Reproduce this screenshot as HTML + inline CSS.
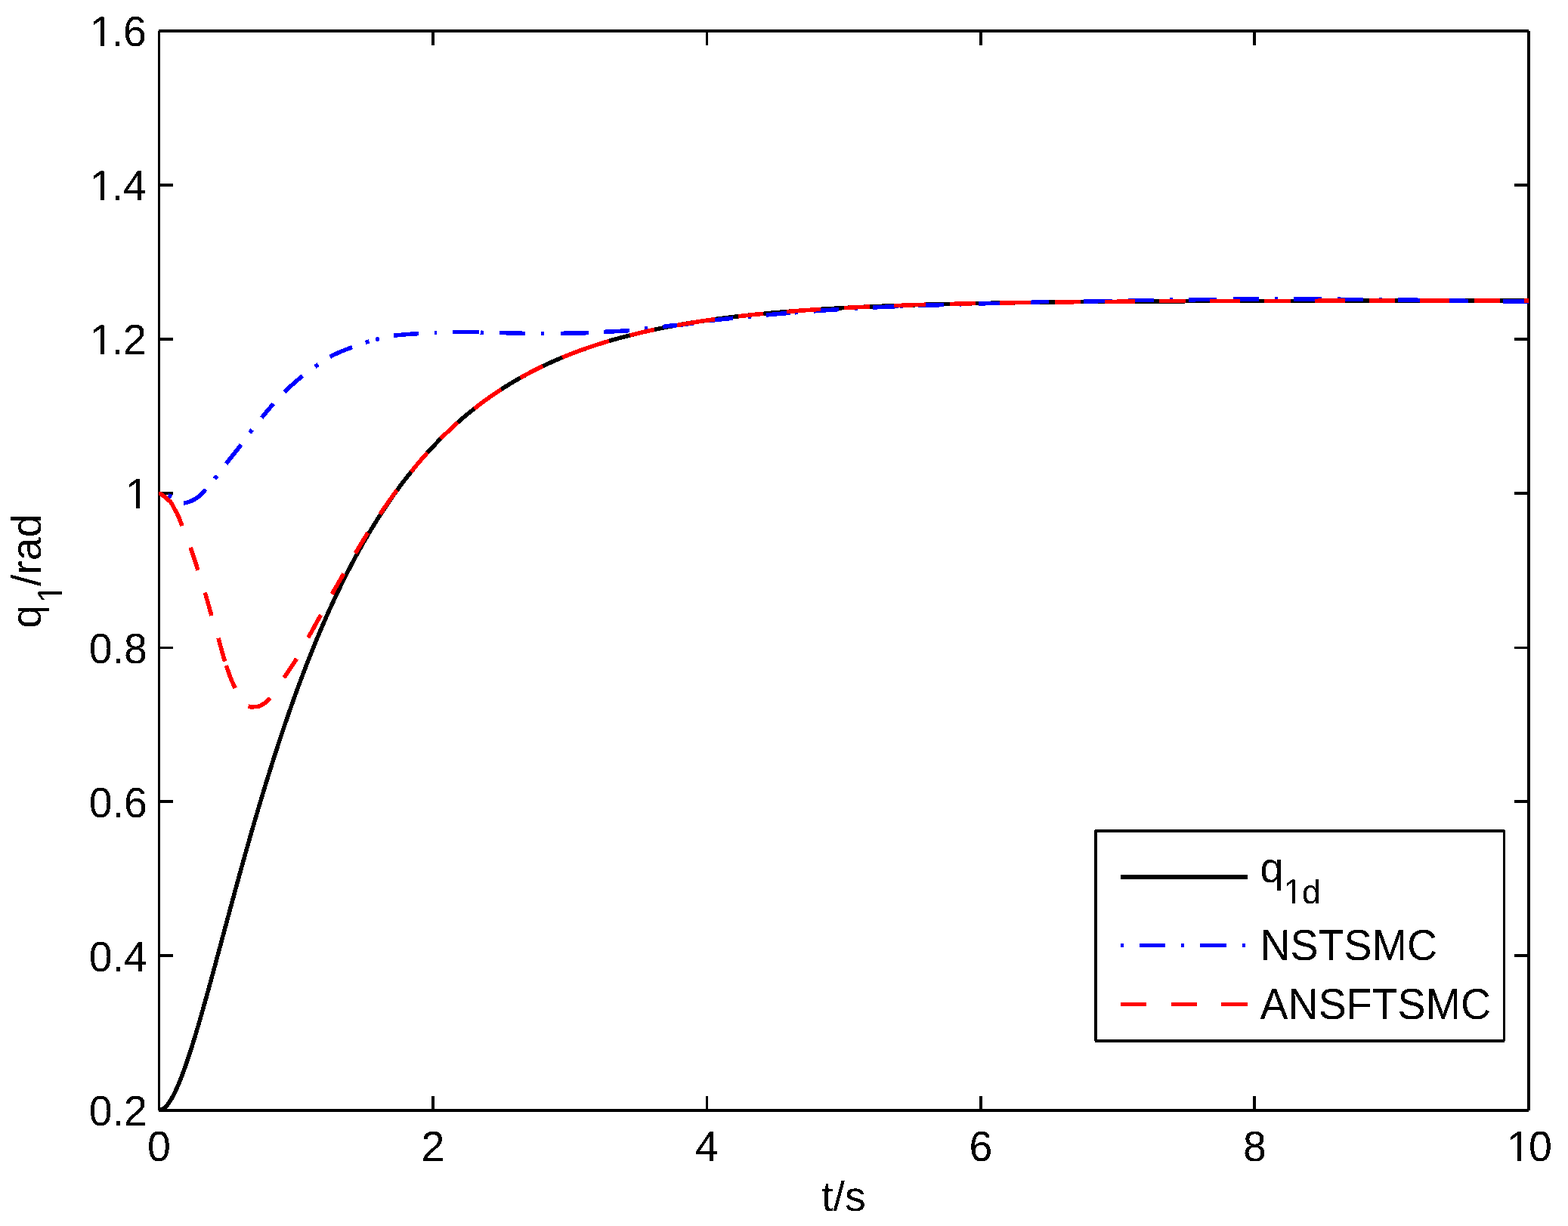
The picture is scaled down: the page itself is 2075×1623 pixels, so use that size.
<!DOCTYPE html>
<html lang="en"><head><meta charset="utf-8"><title>q1 tracking: q1d, NSTSMC, ANSFTSMC</title>
<style>html,body{margin:0;padding:0;background:#fff}body{width:2075px;height:1623px;overflow:hidden}svg{display:block}text{font-family:"Liberation Sans",Arial,Helvetica,sans-serif;fill:#000;text-rendering:geometricPrecision}</style></head><body>
<svg width="2075" height="1623" viewBox="0 0 2075 1623" role="img" aria-label="Joint 1 position tracking: reference q1d compared with NSTSMC and ANSFTSMC controllers">
<rect width="2075" height="1623" fill="#fff"/>
<defs><clipPath id="ax"><rect x="210" y="39" width="1813" height="1433"/></clipPath><filter id="bin" x="0" y="0" width="100%" height="100%" filterUnits="userSpaceOnUse" color-interpolation-filters="sRGB"><feComponentTransfer><feFuncA type="discrete" tableValues="0 1"/></feComponentTransfer></filter></defs>
<g fill="#000" shape-rendering="crispEdges">
<rect x="209" y="41" width="3" height="1429"/>
<rect x="2021" y="41" width="4" height="1429"/>
<rect x="210" y="39" width="1813" height="4"/>
<rect x="210" y="1468" width="1813" height="4"/>
<rect x="571" y="1451" width="4" height="17"/>
<rect x="571" y="43" width="4" height="17"/>
<rect x="934" y="1451" width="3" height="17"/>
<rect x="934" y="43" width="3" height="17"/>
<rect x="1296" y="1451" width="4" height="17"/>
<rect x="1296" y="43" width="4" height="17"/>
<rect x="1658" y="1451" width="4" height="17"/>
<rect x="1658" y="43" width="4" height="17"/>
<rect x="212" y="243" width="17" height="4"/>
<rect x="2004" y="243" width="17" height="4"/>
<rect x="212" y="447" width="17" height="4"/>
<rect x="2004" y="447" width="17" height="4"/>
<rect x="212" y="651" width="17" height="4"/>
<rect x="2004" y="651" width="17" height="4"/>
<rect x="212" y="856" width="17" height="3"/>
<rect x="2004" y="856" width="17" height="3"/>
<rect x="212" y="1059" width="17" height="4"/>
<rect x="2004" y="1059" width="17" height="4"/>
<rect x="212" y="1263" width="17" height="4"/>
<rect x="2004" y="1263" width="17" height="4"/>
</g>
<g clip-path="url(#ax)" fill="none" shape-rendering="crispEdges" stroke-width="5.56" stroke-linejoin="round">
<path stroke="#000" d="M210.5 1469.7L213.5 1469.1L216.0 1467.8L218.0 1466.3L220.0 1464.3L221.5 1462.6L223.0 1460.6L224.5 1458.4L226.0 1456.1L227.5 1453.5L229.0 1450.8L230.5 1447.9L231.5 1445.9L232.5 1443.8L233.5 1441.6L234.5 1439.4L235.5 1437.1L236.5 1434.7L237.5 1432.3L238.5 1429.8L239.5 1427.3L240.5 1424.7L241.5 1422.1L242.5 1419.4L243.5 1416.6L244.5 1413.8L245.5 1411.0L246.5 1408.1L247.5 1405.2L248.5 1402.2L249.5 1399.2L250.5 1396.2L251.5 1393.1L252.5 1390.0L253.5 1386.8L254.5 1383.7L255.5 1380.4L256.5 1377.2L257.5 1373.9L258.5 1370.6L259.5 1367.3L260.5 1363.9L261.5 1360.6L262.5 1357.2L263.5 1353.7L264.5 1350.3L265.5 1346.8L266.5 1343.3L267.5 1339.8L268.5 1336.3L269.5 1332.7L270.5 1329.2L271.5 1325.6L272.5 1322.0L273.5 1318.4L274.5 1314.8L275.5 1311.2L276.5 1307.6L277.5 1303.9L278.5 1300.3L279.5 1296.6L280.5 1292.9L281.5 1289.2L282.5 1285.6L283.5 1281.9L284.5 1278.2L285.5 1274.5L286.5 1270.8L287.5 1267.0L288.5 1263.3L289.5 1259.6L290.5 1255.9L291.5 1252.2L292.5 1248.4L293.5 1244.7L294.5 1241.0L295.5 1237.3L296.5 1233.5L297.5 1229.8L298.5 1226.1L299.5 1222.4L300.5 1218.7L301.5 1214.9L302.5 1211.2L303.5 1207.5L304.5 1203.8L305.5 1200.1L306.5 1196.4L307.5 1192.7L308.5 1189.0L309.5 1185.4L310.5 1181.7L311.5 1178.0L312.5 1174.3L313.5 1170.7L314.5 1167.0L315.5 1163.4L316.5 1159.8L317.5 1156.1L318.5 1152.5L319.5 1148.9L320.5 1145.3L321.5 1141.7L322.5 1138.1L323.5 1134.5L324.5 1130.9L325.5 1127.4L326.5 1123.8L327.5 1120.3L328.5 1116.8L329.5 1113.2L330.5 1109.7L331.5 1106.2L332.5 1102.7L333.5 1099.2L334.5 1095.8L335.5 1092.3L336.5 1088.9L337.5 1085.4L338.5 1082.0L339.5 1078.6L340.5 1075.2L341.5 1071.8L342.5 1068.4L343.5 1065.0L344.5 1061.7L345.5 1058.3L346.5 1055.0L347.5 1051.6L348.5 1048.3L349.5 1045.0L350.5 1041.7L351.5 1038.5L352.5 1035.2L353.5 1031.9L354.5 1028.7L355.5 1025.5L356.5 1022.3L357.5 1019.1L358.5 1015.9L359.5 1012.7L360.5 1009.5L361.5 1006.4L362.5 1003.2L363.5 1000.1L364.5 997.0L365.5 993.9L366.5 990.8L367.5 987.7L368.5 984.7L369.5 981.6L370.5 978.6L371.5 975.6L372.5 972.5L373.5 969.6L374.5 966.6L375.5 963.6L376.5 960.6L377.5 957.7L378.5 954.8L379.5 951.8L380.5 948.9L381.5 946.0L382.5 943.1L383.5 940.3L384.5 937.4L385.5 934.6L386.5 931.8L387.5 928.9L388.5 926.1L389.5 923.3L390.5 920.6L391.5 917.8L392.5 915.0L393.5 912.3L394.5 909.6L395.5 906.9L396.5 904.2L397.5 901.5L398.5 898.8L399.5 896.1L400.5 893.5L401.5 890.8L402.5 888.2L403.5 885.6L404.5 883.0L405.5 880.4L406.5 877.8L407.5 875.3L408.5 872.7L409.5 870.2L410.5 867.7L411.5 865.1L412.5 862.6L413.5 860.2L414.5 857.7L415.5 855.2L416.5 852.8L417.5 850.3L418.5 847.9L419.5 845.5L420.5 843.1L421.5 840.7L422.5 838.3L423.5 835.9L424.5 833.6L425.5 831.2L426.5 828.9L427.5 826.6L428.5 824.3L429.5 822.0L430.5 819.7L431.5 817.4L432.5 815.1L433.5 812.9L434.5 810.6L435.5 808.4L436.5 806.2L437.5 804.0L438.5 801.8L439.5 799.6L440.5 797.4L441.5 795.3L442.5 793.1L443.5 791.0L444.5 788.9L445.5 786.7L446.5 784.6L447.5 782.5L448.5 780.5L449.5 778.4L450.5 776.3L451.5 774.3L452.5 772.2L453.5 770.2L454.5 768.2L455.5 766.2L457.0 763.2L458.5 760.2L460.0 757.2L461.5 754.3L463.0 751.4L464.5 748.5L466.0 745.7L467.5 742.8L469.0 740.0L470.5 737.2L472.0 734.5L473.5 731.7L475.0 729.0L476.5 726.3L478.0 723.6L479.5 721.0L481.0 718.3L482.5 715.7L484.0 713.1L485.5 710.5L487.0 708.0L488.5 705.4L490.0 702.9L491.5 700.4L493.0 697.9L494.5 695.5L496.0 693.1L497.5 690.6L499.0 688.2L500.5 685.9L502.0 683.5L503.5 681.2L505.0 678.8L506.5 676.5L508.0 674.3L509.5 672.0L511.0 669.8L512.5 667.5L514.0 665.3L515.5 663.1L517.0 660.9L518.5 658.8L520.0 656.6L521.5 654.5L523.0 652.4L524.5 650.3L526.0 648.3L527.5 646.2L529.0 644.2L530.5 642.1L532.0 640.1L533.5 638.1L535.0 636.2L536.5 634.2L538.0 632.3L539.5 630.4L541.0 628.4L542.5 626.6L544.0 624.7L545.5 622.8L547.0 621.0L548.5 619.1L550.0 617.3L551.5 615.5L553.0 613.7L554.5 611.9L556.0 610.2L557.5 608.4L559.0 606.7L560.5 605.0L562.0 603.3L563.5 601.6L565.0 599.9L566.5 598.3L568.0 596.6L569.5 595.0L571.0 593.4L572.5 591.8L574.0 590.2L575.5 588.6L577.0 587.0L578.5 585.5L580.0 583.9L581.5 582.4L583.0 580.9L584.5 579.4L586.5 577.4L588.5 575.4L590.5 573.5L592.5 571.5L594.5 569.6L596.5 567.8L598.5 565.9L600.5 564.1L602.5 562.2L604.5 560.4L606.5 558.7L608.5 556.9L610.5 555.1L612.5 553.4L614.5 551.7L616.5 550.0L618.5 548.4L620.5 546.7L622.5 545.1L624.5 543.5L626.5 541.9L628.5 540.3L630.5 538.7L632.5 537.2L634.5 535.7L636.5 534.2L638.5 532.7L640.5 531.2L642.5 529.7L644.5 528.3L646.5 526.8L648.5 525.4L650.5 524.0L652.5 522.7L654.5 521.3L656.5 519.9L658.5 518.6L660.5 517.3L662.5 516.0L664.5 514.7L666.5 513.4L668.5 512.1L670.5 510.9L672.5 509.6L674.5 508.4L676.5 507.2L678.5 506.0L680.5 504.8L682.5 503.6L684.5 502.5L686.5 501.3L688.5 500.2L690.5 499.1L692.5 498.0L694.5 496.9L696.5 495.8L698.5 494.7L700.5 493.6L702.5 492.6L704.5 491.6L706.5 490.5L708.5 489.5L710.5 488.5L713.0 487.3L715.5 486.0L718.0 484.8L720.5 483.7L723.0 482.5L725.5 481.3L728.0 480.2L730.5 479.1L733.0 477.9L735.5 476.8L738.0 475.8L740.5 474.7L743.0 473.6L745.5 472.6L748.0 471.6L750.5 470.6L753.0 469.6L755.5 468.6L758.0 467.6L760.5 466.7L763.0 465.7L765.5 464.8L768.0 463.9L770.5 463.0L773.0 462.1L775.5 461.2L778.0 460.4L780.5 459.5L783.0 458.7L785.5 457.8L788.0 457.0L790.5 456.2L793.0 455.4L795.5 454.6L798.0 453.8L800.5 453.1L803.0 452.3L805.5 451.6L808.0 450.8L810.5 450.1L813.0 449.4L815.5 448.7L818.0 448.0L820.5 447.3L823.0 446.6L825.5 446.0L828.0 445.3L830.5 444.7L833.0 444.0L835.5 443.4L838.0 442.8L840.5 442.2L843.0 441.6L845.5 441.0L848.0 440.4L850.5 439.8L853.0 439.2L855.5 438.6L858.0 438.1L860.5 437.5L863.0 437.0L865.5 436.5L868.0 435.9L870.5 435.4L873.0 434.9L875.5 434.4L878.5 433.8L881.5 433.2L884.5 432.6L887.5 432.1L890.5 431.5L893.5 430.9L896.5 430.4L899.5 429.9L902.5 429.3L905.5 428.8L908.5 428.3L911.5 427.8L914.5 427.3L917.5 426.9L920.5 426.4L923.5 425.9L926.5 425.5L929.5 425.0L932.5 424.6L935.5 424.1L938.5 423.7L941.5 423.3L944.5 422.9L947.5 422.4L950.5 422.0L953.5 421.6L956.5 421.3L959.5 420.9L962.5 420.5L965.5 420.1L968.5 419.8L971.5 419.4L974.5 419.1L977.5 418.7L980.5 418.4L983.5 418.0L986.5 417.7L989.5 417.4L992.5 417.1L995.5 416.7L998.5 416.4L1001.5 416.1L1004.5 415.8L1007.5 415.5L1010.5 415.3L1013.5 415.0L1016.5 414.7L1019.5 414.4L1022.5 414.1L1025.5 413.9L1028.5 413.6L1031.5 413.4L1034.5 413.1L1037.5 412.9L1040.5 412.6L1043.5 412.4L1046.5 412.1L1049.5 411.9L1052.5 411.7L1055.5 411.4L1058.5 411.2L1061.5 411.0L1064.5 410.8L1067.5 410.6L1070.5 410.4L1073.5 410.2L1076.5 410.0L1079.5 409.8L1082.5 409.6L1085.5 409.4L1088.5 409.2L1091.5 409.0L1094.5 408.8L1097.5 408.7L1100.5 408.5L1103.5 408.3L1106.5 408.1L1109.5 408.0L1112.5 407.8L1115.5 407.6L1118.5 407.5L1121.5 407.3L1124.5 407.2L1127.5 407.0L1130.5 406.9L1133.5 406.7L1136.5 406.6L1139.5 406.4L1142.5 406.3L1145.5 406.2L1148.5 406.0L1151.5 405.9L1154.5 405.8L1157.5 405.6L1160.5 405.5L1163.5 405.4L1166.5 405.3L1169.5 405.1L1172.5 405.0L1175.5 404.9L1178.5 404.8L1181.5 404.7L1184.5 404.6L1187.5 404.5L1190.5 404.4L1193.5 404.3L1196.5 404.2L1199.5 404.0L1202.5 403.9L1205.5 403.9L1208.5 403.8L1211.5 403.7L1214.5 403.6L1217.5 403.5L1220.5 403.4L1223.5 403.3L1226.5 403.2L1229.5 403.1L1232.5 403.0L1235.5 403.0L1238.5 402.9L1241.5 402.8L1244.5 402.7L1247.5 402.6L1250.5 402.6L1253.5 402.5L1256.5 402.4L1259.5 402.3L1262.5 402.3L1265.5 402.2L1268.5 402.1L1271.5 402.1L1274.5 402.0L1277.5 401.9L1280.5 401.9L1283.5 401.8L1286.5 401.7L1289.5 401.7L1292.5 401.6L1295.5 401.5L1298.5 401.5L1301.5 401.4L1304.5 401.4L1307.5 401.3L1310.5 401.3L1313.5 401.2L1316.5 401.1L1319.5 401.1L1322.5 401.0L1325.5 401.0L1328.5 400.9L1331.5 400.9L1334.5 400.8L1337.5 400.8L1340.5 400.8L1343.5 400.7L1346.5 400.7L1349.5 400.6L1352.5 400.6L1355.5 400.5L1358.5 400.5L1361.5 400.4L1364.5 400.4L1367.5 400.4L1370.5 400.3L1373.5 400.3L1376.5 400.2L1379.5 400.2L1382.5 400.2L1385.5 400.1L1388.5 400.1L1391.5 400.1L1394.5 400.0L1397.5 400.0L1400.5 400.0L1403.5 399.9L1406.5 399.9L1409.5 399.9L1412.5 399.8L1415.5 399.8L1418.5 399.8L1421.5 399.7L1424.5 399.7L1427.5 399.7L1430.5 399.7L1433.5 399.6L1436.5 399.6L1439.5 399.6L1442.5 399.5L1445.5 399.5L1448.5 399.5L1451.5 399.5L1454.5 399.4L1457.5 399.4L1460.5 399.4L1463.5 399.4L1466.5 399.3L1469.5 399.3L1472.5 399.3L1475.5 399.3L1478.5 399.3L1481.5 399.2L1484.5 399.2L1487.5 399.2L1490.5 399.2L1493.5 399.2L1496.5 399.1L1499.5 399.1L1502.5 399.1L1505.5 399.1L1508.5 399.1L1511.5 399.0L1514.5 399.0L1517.5 399.0L1520.5 399.0L1523.5 399.0L1526.5 399.0L1529.5 398.9L1532.5 398.9L1535.5 398.9L1538.5 398.9L1541.5 398.9L1544.5 398.9L1547.5 398.8L1550.5 398.8L1553.5 398.8L1556.5 398.8L1559.5 398.8L1562.5 398.8L1565.5 398.8L1568.5 398.7L1571.5 398.7L1574.5 398.7L1577.5 398.7L1580.5 398.7L1583.5 398.7L1586.5 398.7L1589.5 398.7L1592.5 398.6L1595.5 398.6L1598.5 398.6L1601.5 398.6L1604.5 398.6L1607.5 398.6L1610.5 398.6L1613.5 398.6L1616.5 398.6L1619.5 398.6L1622.5 398.5L1625.5 398.5L1628.5 398.5L1631.5 398.5L1634.5 398.5L1637.5 398.5L1640.5 398.5L1643.5 398.5L1646.5 398.5L1649.5 398.5L1652.5 398.5L1655.5 398.4L1658.5 398.4L1661.5 398.4L1664.5 398.4L1667.5 398.4L1670.5 398.4L1673.5 398.4L1676.5 398.4L1679.5 398.4L1682.5 398.4L1685.5 398.4L1688.5 398.4L1691.5 398.4L1694.5 398.3L1697.5 398.3L1700.5 398.3L1703.5 398.3L1706.5 398.3L1709.5 398.3L1712.5 398.3L1715.5 398.3L1718.5 398.3L1721.5 398.3L1724.5 398.3L1727.5 398.3L1730.5 398.3L1733.5 398.3L1736.5 398.3L1739.5 398.3L1742.5 398.3L1745.5 398.3L1748.5 398.2L1751.5 398.2L1754.5 398.2L1757.5 398.2L1760.5 398.2L1763.5 398.2L1766.5 398.2L1769.5 398.2L1772.5 398.2L1775.5 398.2L1778.5 398.2L1781.5 398.2L1784.5 398.2L1787.5 398.2L1790.5 398.2L1793.5 398.2L1796.5 398.2L1799.5 398.2L1802.5 398.2L1805.5 398.2L1808.5 398.2L1811.5 398.2L1814.5 398.2L1817.5 398.2L1820.5 398.1L1823.5 398.1L1826.5 398.1L1829.5 398.1L1832.5 398.1L1835.5 398.1L1838.5 398.1L1841.5 398.1L1844.5 398.1L1847.5 398.1L1850.5 398.1L1853.5 398.1L1856.5 398.1L1859.5 398.1L1862.5 398.1L1865.5 398.1L1868.5 398.1L1871.5 398.1L1874.5 398.1L1877.5 398.1L1880.5 398.1L1883.5 398.1L1886.5 398.1L1889.5 398.1L1892.5 398.1L1895.5 398.1L1898.5 398.1L1901.5 398.1L1904.5 398.1L1907.5 398.1L1910.5 398.1L1913.5 398.1L1916.5 398.1L1919.5 398.1L1922.5 398.1L1925.5 398.1L1928.5 398.1L1931.5 398.1L1934.5 398.1L1937.5 398.1L1940.5 398.1L1943.5 398.1L1946.5 398.0L1949.5 398.0L1952.5 398.0L1955.5 398.0L1958.5 398.0L1961.5 398.0L1964.5 398.0L1967.5 398.0L1970.5 398.0L1973.5 398.0L1976.5 398.0L1979.5 398.0L1982.5 398.0L1985.5 398.0L1988.5 398.0L1991.5 398.0L1994.5 398.0L1997.5 398.0L2000.5 398.0L2003.5 398.0L2006.5 398.0L2009.5 398.0L2012.5 398.0L2015.5 398.0L2018.5 398.0L2021.5 398.0L2023.0 398.0"/>
<path stroke="#00f" d="M222.5 655.7L224.0 656.3L225.4 657.0L226.9 658.0M243.0 666.0L244.9 665.8L246.9 665.3L248.8 664.7L250.7 664.1L252.7 663.3L254.6 662.5L256.5 661.5L258.5 660.4L260.4 659.3L262.3 657.9L264.3 656.5L266.2 654.7L268.1 652.5L270.1 650.2L272.0 647.9M283.9 633.8L285.5 631.9L287.1 629.9M299.2 614.0L301.2 611.5L303.1 608.9L305.1 606.4L307.1 604.0L309.0 601.5L311.0 599.0L313.0 596.5L315.0 593.9L316.9 591.4L318.9 588.8M330.6 572.9L332.1 570.9L333.6 568.9M346.3 553.0L348.2 550.6L350.1 548.3L352.1 545.9L354.0 543.6L355.9 541.3L357.9 539.0L359.8 536.8L361.7 534.6M376.5 518.9L378.5 517.0L380.5 515.1L382.5 513.2L384.5 511.3L386.5 509.5L388.5 507.7L390.5 506.0L392.5 504.2L394.5 502.5L396.5 500.9L398.5 499.2L400.5 497.6M416.9 485.4L418.3 484.5L419.7 483.5L421.1 482.6M436.7 472.3L438.7 471.3L440.6 470.3L442.6 469.3L444.5 468.4L446.5 467.5L448.4 466.7L450.4 465.8L452.3 465.0L454.3 464.2L456.2 463.4L458.2 462.6L460.1 461.9L462.1 461.1L464.0 460.3L466.0 459.6M483.6 453.4L485.2 452.9L486.8 452.5L488.4 452.0M497.1 449.6L498.7 449.2L500.3 448.8L501.9 448.4M521.0 444.3L522.9 444.1L524.9 443.9L526.8 443.6L528.8 443.5L530.7 443.3L532.7 443.1L534.6 442.9L536.6 442.8L538.5 442.6L540.5 442.5L542.4 442.4L544.4 442.2L546.3 442.1L548.3 442.0L550.2 441.8L552.2 441.7L554.1 441.6M574.9 440.5L576.4 440.4L577.9 440.3M599.0 439.5L600.9 439.5L602.9 439.5L604.8 439.5L606.8 439.5L608.7 439.5L610.7 439.5L612.6 439.5L614.6 439.5L616.5 439.5L618.4 439.5L620.4 439.5L622.3 439.5L624.3 439.5L626.2 439.5L628.2 439.5L630.1 439.5L632.1 439.5L634.0 439.5M636.0 439.9L638.0 440.4L640.0 440.4M661.1 440.6L663.1 440.6L665.1 440.7L667.1 440.7L669.1 440.7L671.0 440.8L673.0 440.8L675.0 440.9L677.0 440.9L679.0 441.0L681.0 441.0L683.0 441.1L685.0 441.1L686.9 441.2L688.9 441.2L690.9 441.3L692.9 441.3L694.9 441.3M716.0 441.4L718.0 441.4L720.0 441.4M742.2 441.3L744.1 441.3L746.1 441.3L748.0 441.2L749.9 441.2L751.9 441.2L753.8 441.2L755.7 441.1L757.7 441.1L759.6 441.1L761.5 441.0L763.4 441.0L765.4 441.0L767.3 440.9L769.2 440.9L771.2 440.8L773.1 440.8L775.0 440.7L777.0 440.7L778.9 440.6M799.2 439.4L801.2 439.3L803.2 439.2L805.2 439.1L807.2 439.0L809.2 438.9L811.2 438.8L813.2 438.7L815.2 438.6L817.1 438.5L819.1 438.4L821.1 438.3L823.1 438.2L825.1 438.1L827.1 438.0L829.1 437.9L831.1 437.7L833.1 437.6M853.4 435.1L855.2 434.9L857.0 434.7M877.1 432.6L879.1 432.3L881.1 432.0L883.1 431.7L885.1 431.4L887.1 431.2L889.1 431.1L891.1 431.0L893.1 430.8L895.0 430.7L897.0 430.5L899.0 430.3L901.0 430.1L903.0 429.8L905.0 429.6L907.0 429.3L909.0 429.1L911.0 428.9M912.5 428.7L914.2 428.4L915.8 428.2L917.5 428.0M938.9 424.7L940.8 424.5L942.8 424.2L944.7 423.9L946.6 423.7L948.6 423.5L950.5 423.3L952.5 423.0L954.4 422.8L956.3 422.6L958.3 422.4L960.2 422.2L962.1 422.0L964.1 421.8L966.0 421.6L968.0 421.4L969.9 421.2M990.0 419.2L992.0 419.0L994.0 418.9M1014.2 417.0L1016.2 416.8L1018.2 416.6L1020.2 416.4L1022.2 416.3L1024.2 416.1L1026.2 415.9L1028.2 415.7L1030.2 415.6L1032.1 415.4L1034.1 415.2L1036.1 415.1L1038.1 414.9L1040.1 414.7L1042.1 414.6L1044.1 414.4L1046.1 414.2M1052.0 413.8L1054.0 413.6L1056.0 413.5M1076.9 411.9L1078.8 411.7L1080.8 411.6L1082.7 411.5L1084.7 411.3L1086.6 411.2L1088.6 411.0L1090.5 410.9L1092.5 410.8L1094.4 410.6L1096.4 410.5L1098.3 410.4L1100.3 410.3L1102.2 410.1L1104.2 410.0L1106.1 409.9L1108.1 409.7L1110.0 409.6M1131.1 408.3L1132.5 408.3L1133.9 408.2L1135.3 408.1M1155.2 407.0L1157.2 406.9L1159.2 406.8L1161.1 406.7L1163.1 406.7L1165.1 406.6L1167.1 406.5L1169.1 406.4L1171.1 406.3L1173.0 406.2L1175.0 406.1L1177.0 406.0L1179.0 405.9L1181.0 405.8L1183.0 405.8L1184.9 405.7L1186.9 405.6L1188.9 405.5M1191.3 405.4L1193.2 405.4L1195.0 405.3M1214.8 404.6L1216.7 404.6L1218.6 404.5L1220.5 404.4L1222.4 404.4L1224.3 404.3L1226.2 404.2L1228.1 404.2L1230.0 404.1L1231.8 404.1L1233.7 404.0L1235.6 403.9L1237.5 403.9L1239.4 403.8L1241.3 403.8L1243.2 403.7L1245.1 403.6L1247.0 403.6L1248.9 403.5M1270.2 402.8L1272.1 402.7L1273.9 402.7M1294.8 402.0L1296.7 401.9L1298.6 401.9L1300.5 401.8L1302.4 401.8L1304.3 401.7L1306.2 401.7L1308.1 401.6L1310.0 401.6L1311.9 401.6L1313.9 401.5L1315.8 401.5L1317.7 401.4L1319.6 401.4L1321.5 401.4L1323.4 401.3L1325.3 401.3L1327.2 401.2L1329.1 401.2L1331.0 401.2M1355.0 400.6L1356.9 400.6L1358.9 400.5L1360.8 400.4L1362.8 400.4L1364.7 400.3L1366.7 400.2L1368.6 400.1L1370.6 400.0L1372.5 399.9L1374.5 399.8L1376.4 399.7L1378.4 399.6L1380.3 399.6L1382.3 399.5L1384.2 399.5L1386.2 399.4L1388.1 399.4M1434.0 399.0L1435.9 398.9L1437.8 398.9L1439.7 398.9L1441.6 398.9L1443.5 398.9L1445.5 398.8L1447.4 398.8L1449.3 398.8L1451.2 398.8L1453.1 398.7L1455.0 398.7L1456.9 398.7L1458.8 398.6L1460.7 398.6L1462.7 398.5L1464.6 398.5L1466.5 398.4L1468.4 398.4L1470.3 398.3L1472.2 398.3M1493.2 397.7L1495.2 397.7L1497.2 397.7L1499.2 397.6L1501.2 397.6L1503.1 397.6L1505.1 397.5L1507.1 397.5L1509.1 397.5L1511.1 397.5L1513.1 397.4L1515.1 397.4L1517.1 397.4L1519.0 397.4L1521.0 397.3L1523.0 397.3L1525.0 397.3L1527.0 397.3M1548.0 397.1L1550.0 397.0L1552.0 397.0M1573.0 396.8L1574.9 396.8L1576.9 396.8L1578.8 396.8L1580.7 396.8L1582.7 396.7L1584.6 396.7L1586.6 396.7L1588.5 396.7L1590.4 396.7L1592.4 396.6L1594.3 396.6L1596.2 396.6L1598.2 396.6L1600.1 396.5L1602.1 396.5L1604.0 396.5L1605.9 396.5L1607.9 396.4L1609.8 396.4M1632.0 396.1L1634.0 396.1L1636.0 396.1L1638.0 396.0L1640.0 396.0L1642.0 396.0L1644.0 396.0L1646.0 396.0L1648.0 396.0L1650.0 396.0L1652.0 396.0L1654.0 395.9L1656.0 395.9L1658.0 395.9L1660.0 395.9L1662.0 395.9L1664.0 395.9L1666.0 395.9M1687.0 395.8L1689.0 395.8L1691.0 395.8M1711.9 395.8L1713.9 395.8L1715.8 395.8L1717.8 395.8L1719.7 395.8L1721.7 395.8L1723.6 395.8L1725.6 395.8L1727.5 395.8L1729.5 395.8L1731.4 395.8L1733.4 395.8L1735.3 395.8L1737.3 395.8L1739.2 395.8L1741.2 395.8L1743.1 395.8L1745.1 395.9L1747.0 395.9L1749.0 395.9M1769.9 396.2L1771.8 396.2L1773.7 396.3L1775.6 396.3L1777.5 396.3L1779.4 396.4L1781.3 396.4L1783.2 396.4L1785.1 396.4L1787.0 396.5L1788.8 396.5L1790.7 396.5L1792.6 396.5L1794.5 396.5L1796.4 396.5L1798.3 396.6L1800.2 396.6L1802.1 396.6L1804.0 396.6M1825.0 396.8L1827.0 396.8L1829.0 396.8M1849.9 397.0L1851.8 397.0L1853.7 397.0L1855.6 397.0L1857.5 397.0L1859.4 397.0L1861.3 397.1L1863.2 397.1L1865.1 397.1L1867.0 397.1L1868.9 397.2L1870.8 397.2L1872.7 397.2L1874.6 397.2L1876.5 397.3L1878.4 397.3L1880.3 397.3L1882.2 397.3L1884.1 397.4L1886.0 397.4M1909.0 397.8L1911.0 397.8L1913.0 397.9L1915.0 397.9L1917.0 397.9L1919.0 398.0L1921.0 398.0L1923.0 398.0L1925.0 398.1L1927.0 398.1L1929.0 398.1L1931.0 398.1L1933.0 398.2L1935.0 398.2L1937.0 398.2L1939.0 398.3L1941.0 398.3L1943.0 398.3M1964.0 398.7L1966.0 398.7L1968.0 398.7M1989.0 399.0L1991.0 399.0L1993.0 399.0L1995.0 399.0L1997.0 399.0L1999.0 399.0L2001.0 399.0L2003.0 399.0L2005.0 399.0L2007.0 399.0L2009.0 399.0L2011.0 399.0L2013.0 399.0L2015.0 399.0L2017.0 399.0L2019.0 399.0L2021.0 399.0L2023.0 399.0"/>
<path stroke="#f00" d="M210.0 653.0L211.9 653.5L213.9 654.6L215.8 656.0L217.7 657.6L219.7 659.3L221.6 661.0L223.5 662.6L225.4 664.2L227.4 667.0L229.3 670.6L231.2 674.1L233.2 677.6L235.1 681.5L237.0 685.7L239.0 690.8L240.9 696.3M252.0 724.8L254.0 730.4L256.0 736.4L258.0 742.5L260.0 748.7L262.0 754.9M271.2 784.4L273.0 790.4L274.7 796.5L276.5 802.7L278.2 808.9L280.0 815.0M289.0 844.8L290.7 850.9L292.4 857.4L294.2 863.8L295.9 869.9L297.6 875.6M299.4 881.1L301.3 886.8L303.3 892.3L305.2 897.5L307.2 902.3L309.2 906.8L311.1 910.8M328.4 934.8L330.3 935.6L332.3 935.8L334.2 935.8L336.1 935.7L338.0 935.6L340.0 935.5L341.9 935.2L343.8 934.5L345.7 933.5L347.7 932.4L349.6 931.2L351.5 929.8L353.4 928.1L355.4 926.3L357.3 924.1M375.8 897.2L377.7 894.5L379.5 891.7L381.4 889.1L383.2 886.4L385.1 883.6L386.9 880.8L388.8 878.0L390.6 875.0L392.5 871.9M407.9 844.2L409.7 840.8L411.6 837.5L413.4 834.2L415.3 830.8L417.1 827.5L419.0 824.1L420.8 820.8L422.7 817.4L424.5 814.0M439.4 786.5L441.3 783.0L443.2 779.6L445.2 776.3L447.1 772.9L449.0 769.5L450.9 766.2L452.9 762.8L454.8 759.4M470.2 732.5L472.1 729.4L473.9 726.3L475.8 723.2L477.6 720.2L479.5 717.2L481.3 714.2L483.2 711.2L485.0 708.2L486.9 705.3M502.8 681.0L504.7 678.2L506.6 675.4L508.4 672.6L510.3 669.9L512.2 667.1L514.0 664.4L515.9 661.8L517.8 659.1L519.7 656.5L521.5 653.9L523.4 651.3L525.3 648.8M543.9 624.7L545.9 622.3L547.8 619.9L549.8 617.5L551.8 615.2L553.7 612.9L555.7 610.6L557.6 608.3L559.6 606.0L561.6 603.8L563.5 601.6L565.5 599.4M583.2 580.7L585.1 578.8L587.0 576.9L588.8 575.1L590.7 573.3L592.6 571.5L594.5 569.7L596.3 567.9L598.2 566.2L600.1 564.4L602.0 562.7L603.8 561.0L605.7 559.4M627.7 540.9L629.7 539.4L631.6 537.9L633.6 536.3L635.6 534.8L637.6 533.4L639.5 531.9L641.5 530.4L643.5 529.0L645.5 527.6L647.4 526.2L649.4 524.8L651.4 523.4L653.3 522.1L655.3 520.7L657.3 519.4L659.3 518.1L661.2 516.8L663.2 515.5M688.7 500.1L690.7 499.0L692.6 497.9L694.6 496.8L696.6 495.7L698.5 494.7L700.5 493.6L702.5 492.6L704.4 491.6L706.4 490.6L708.4 489.6L710.3 488.6L712.3 487.6L714.3 486.7L716.2 485.7L718.2 484.7M744.0 473.2L746.0 472.4L748.0 471.6L750.0 470.8L752.0 470.0L754.0 469.2L756.0 468.4L758.0 467.6L760.0 466.9L762.0 466.1L764.0 465.4L766.0 464.6L768.0 463.9L770.0 463.2L772.0 462.5L774.0 461.7L776.0 461.0L778.0 460.4L780.0 459.7L782.0 459.0L784.0 458.3L786.0 457.7L788.0 457.0L790.0 456.4L792.0 455.7L794.0 455.1L796.0 454.5L798.0 453.8L800.0 453.2L802.0 452.6L804.0 452.0L806.0 451.4M833.6 443.9L835.5 443.4L837.4 442.9L839.3 442.4L841.2 442.0L843.1 441.5L845.0 441.1L846.9 440.6L848.8 440.2L850.8 439.7L852.7 439.3L854.6 438.9L856.5 438.4L858.4 438.0L860.3 437.6L862.2 437.2L864.1 436.8L866.0 436.4M896.0 430.5L898.0 430.1L900.0 429.8L902.0 429.4L904.0 429.1L906.0 428.8L908.0 428.4L910.0 428.1L912.0 427.8L914.0 427.4L916.0 427.1L918.0 426.8L920.0 426.5L921.9 426.2L923.9 425.8L925.9 425.5L927.9 425.2L929.9 424.9L931.9 424.6L933.9 424.4L935.9 424.1L937.9 423.8L939.9 423.5L941.9 423.2L943.9 422.9L945.9 422.7M976.9 418.8L978.9 418.6L980.8 418.3L982.8 418.1L984.8 417.9L986.7 417.7L988.7 417.5L990.7 417.3L992.6 417.0L994.6 416.8L996.5 416.6L998.5 416.4L1000.5 416.2L1002.4 416.0L1004.4 415.8L1006.4 415.7L1008.3 415.5L1010.3 415.3M1040.8 412.6L1042.8 412.4L1044.7 412.3L1046.7 412.1L1048.6 412.0L1050.6 411.8L1052.5 411.7L1054.5 411.5L1056.5 411.4L1058.4 411.2L1060.4 411.1L1062.3 411.0L1064.3 410.8L1066.2 410.7L1068.2 410.5L1070.1 410.4L1072.1 410.3L1074.1 410.1L1076.0 410.0L1078.0 409.9L1079.9 409.7L1081.9 409.6L1083.8 409.5L1085.8 409.4M1117.0 407.6L1118.9 407.5L1120.8 407.4L1122.7 407.3L1124.6 407.2L1126.5 407.1L1128.4 407.0L1130.3 406.9L1132.2 406.8L1134.0 406.7L1135.9 406.6L1137.8 406.5L1139.7 406.4L1141.6 406.3L1143.5 406.3L1145.4 406.2L1147.3 406.1L1149.2 406.0L1151.1 405.9M1183.0 404.6L1185.0 404.6L1187.0 404.5L1189.0 404.4L1191.0 404.3L1193.0 404.3L1195.0 404.2L1197.0 404.1L1199.0 404.1L1201.0 404.0L1203.0 403.9L1205.0 403.9L1207.0 403.8L1209.0 403.7L1211.0 403.7L1213.0 403.6L1215.0 403.5L1217.0 403.5L1219.0 403.4L1221.0 403.4L1223.0 403.3L1225.0 403.2M1257.0 402.4L1258.9 402.3L1260.8 402.3L1262.7 402.3L1264.6 402.2L1266.5 402.2L1268.4 402.1L1270.3 402.1L1272.2 402.0L1274.0 402.0L1275.9 402.0L1277.8 401.9L1279.7 401.9L1281.6 401.8L1283.5 401.8L1285.4 401.7L1287.3 401.7L1289.2 401.7L1291.1 401.6M1323.1 401.0L1325.0 401.0L1327.0 401.0L1328.9 400.9L1330.9 400.9L1332.8 400.9L1334.8 400.8L1336.7 400.8L1338.7 400.8L1340.6 400.8L1342.6 400.7L1344.5 400.7L1346.5 400.7L1348.4 400.6L1350.4 400.6L1352.3 400.6L1354.3 400.5L1356.2 400.5L1358.2 400.5L1360.1 400.5L1362.1 400.4L1364.0 400.4M1396.0 400.0L1398.0 400.0L1400.0 400.0L1402.0 399.9L1404.0 399.9L1406.0 399.9L1408.0 399.9L1410.0 399.9L1412.0 399.8L1414.0 399.8L1416.0 399.8L1418.0 399.8L1420.0 399.8L1422.0 399.7L1424.0 399.7L1426.0 399.7L1428.0 399.7L1430.0 399.7M1462.0 399.4L1464.0 399.4L1466.0 399.4L1468.0 399.3L1470.0 399.3L1472.0 399.3L1474.0 399.3L1476.0 399.3L1478.0 399.3L1480.0 399.2L1482.0 399.2L1484.0 399.2L1486.0 399.2L1488.0 399.2L1490.0 399.2L1492.0 399.1L1494.0 399.1L1496.0 399.0L1498.0 399.0L1500.0 398.9L1502.0 398.9M1534.0 398.5L1535.9 398.5L1537.9 398.4L1539.8 398.4L1541.8 398.4L1543.7 398.4L1545.7 398.4L1547.6 398.4L1549.6 398.4L1551.5 398.4L1553.4 398.4L1555.4 398.4L1557.3 398.3L1559.3 398.3L1561.2 398.3L1563.2 398.3L1565.1 398.3L1567.1 398.3L1569.0 398.3M1601.0 398.3L1603.0 398.3L1605.0 398.3L1607.0 398.4L1609.0 398.4L1611.0 398.4L1613.0 398.4L1615.0 398.5L1617.0 398.5L1619.0 398.5L1621.0 398.5L1623.0 398.5L1625.0 398.5L1627.0 398.5L1629.0 398.5L1631.0 398.5L1633.0 398.5L1635.0 398.5L1637.0 398.5L1639.0 398.5L1641.0 398.5M1673.0 398.4L1674.9 398.4L1676.9 398.4L1678.8 398.4L1680.8 398.4L1682.7 398.4L1684.7 398.4L1686.6 398.4L1688.6 398.4L1690.5 398.4L1692.4 398.4L1694.4 398.3L1696.3 398.3L1698.3 398.3L1700.2 398.3L1702.2 398.3L1704.1 398.3L1706.1 398.3L1708.0 398.3M1740.1 398.3L1742.1 398.3L1744.1 398.3L1746.1 398.2L1748.1 398.2L1750.1 398.2L1752.1 398.2L1754.1 398.2L1756.1 398.2L1758.1 398.2L1760.0 398.2L1762.0 398.2L1764.0 398.2L1766.0 398.2L1768.0 398.2L1770.0 398.2L1772.0 398.2L1774.0 398.2L1776.0 398.2L1778.0 398.2L1780.0 398.2M1812.0 398.2L1814.0 398.2L1816.0 398.2L1818.0 398.2L1820.0 398.1L1822.0 398.1L1824.0 398.1L1826.0 398.1L1828.0 398.1L1830.0 398.1L1832.0 398.1L1834.0 398.1L1836.0 398.1L1838.0 398.1L1840.0 398.1L1842.0 398.1L1844.0 398.1L1846.0 398.1M1879.0 398.1L1881.0 398.1L1882.9 398.1L1884.8 398.1L1886.8 398.1L1888.8 398.1L1890.7 398.1L1892.7 398.1L1894.6 398.1L1896.5 398.1L1898.5 398.1L1900.5 398.1L1902.4 398.1L1904.3 398.1L1906.3 398.1L1908.2 398.1L1910.2 398.1L1912.2 398.1L1914.1 398.1L1916.0 398.1L1918.0 398.1M1951.1 398.0L1953.1 398.0L1955.1 398.0L1957.1 398.0L1959.1 398.0L1961.1 398.0L1963.1 398.0L1965.1 398.0L1967.1 398.0L1969.1 398.0L1971.1 398.0L1973.1 398.0L1975.1 398.0L1977.1 398.0L1979.1 398.0L1981.1 398.0L1983.1 398.0L1985.1 398.0M2017.0 398.0L2019.0 398.0L2021.0 398.0L2023.0 398.0"/>
</g>
<g font-size="55.56px" filter="url(#bin)">
<text transform="translate(210.5 1537) scale(1 1.017)" text-anchor="middle">0</text>
<text transform="translate(573.0 1537) scale(1 1.017)" text-anchor="middle">2</text>
<text transform="translate(935.5 1537) scale(1 1.017)" text-anchor="middle">4</text>
<text transform="translate(1298.0 1537) scale(1 1.017)" text-anchor="middle">6</text>
<text transform="translate(1660.5 1537) scale(1 1.017)" text-anchor="middle">8</text>
<text transform="translate(1992.1 1537) scale(1 1.017)" text-anchor="start" x="2 30.9">10</text>
<text transform="translate(195 1490) scale(1 1.017)" text-anchor="end">0.2</text>
<text transform="translate(195 1286) scale(1 1.017)" text-anchor="end">0.4</text>
<text transform="translate(195 1082) scale(1 1.017)" text-anchor="end">0.6</text>
<text transform="translate(195 878) scale(1 1.017)" text-anchor="end">0.8</text>
<text transform="translate(166.1 673) scale(1 1.017)" text-anchor="start">1</text>
<text transform="translate(117.8 469) scale(1 1.017)" text-anchor="start" x="1 29.9 45.3">1.2</text>
<text transform="translate(117.8 265) scale(1 1.017)" text-anchor="start" x="1 29.9 45.3">1.4</text>
<text transform="translate(117.8 61) scale(1 1.017)" text-anchor="start" x="1 29.9 45.3">1.6</text>
<text x="1116.5" y="1603" text-anchor="middle">t/s</text>
<g transform="translate(54 756) rotate(-90)">
<text x="-75.7" y="0">q</text>
<text transform="translate(-42.5 28) scale(1 1.04)" font-size="44.44px">1</text>
<text x="-20.1" y="0">/rad</text>
</g>
</g>
<g shape-rendering="crispEdges">
<rect x="1449" y="1099" width="542" height="280" fill="#fff"/>
<path fill="#000" d="M1448 1099h4v279h-4zM1989 1099h3v279h-3zM1449 1098h542v4h-542zM1449 1376h542v4h-542z"/>
<rect x="1483" y="1158" width="168" height="6" fill="#000"/>
<path fill="#00f" d="M1483 1249h4v5h-4zM1508 1249h34v5h-34zM1563 1249h4v5h-4zM1588 1249h35v5h-35zM1644 1249h4v5h-4z"/>
<path fill="#f00" d="M1483 1327h34v5h-34zM1550 1327h34v5h-34zM1616 1327h35v5h-35z"/>
</g>
<g font-size="55.56px" filter="url(#bin)">
<text x="1667.5" y="1167.5">q</text>
<text transform="translate(1698.4 1196) scale(1 1.04)" font-size="44.44px">1</text>
<text x="1723.1" y="1196" font-size="44.44px">d</text>
<text transform="translate(1667.5 1271) scale(1 1.04)" text-anchor="start">NSTSMC</text>
<text transform="translate(1667.5 1349) scale(1 1.04)" text-anchor="start">ANSFTSMC</text>
</g>
<path fill="#fff" shape-rendering="crispEdges" d="M123 57h10v4h-10zM138 57h9v4h-9zM123 261h10v4h-10zM138 261h9v4h-9zM123 465h10v4h-10zM138 465h9v4h-9zM170 669h10v4h-10zM185 669h9v4h-9zM1998 1533h10v4h-10zM2013 1533h9v4h-9zM1702 1193h8v3h-8zM1714 1193h7v3h-7zM1709 1192h1v1h-1zM79 776h3v7h-3zM79 787h3v8h-3zM78 787h1v1h-1z"/>
</svg></body></html>
